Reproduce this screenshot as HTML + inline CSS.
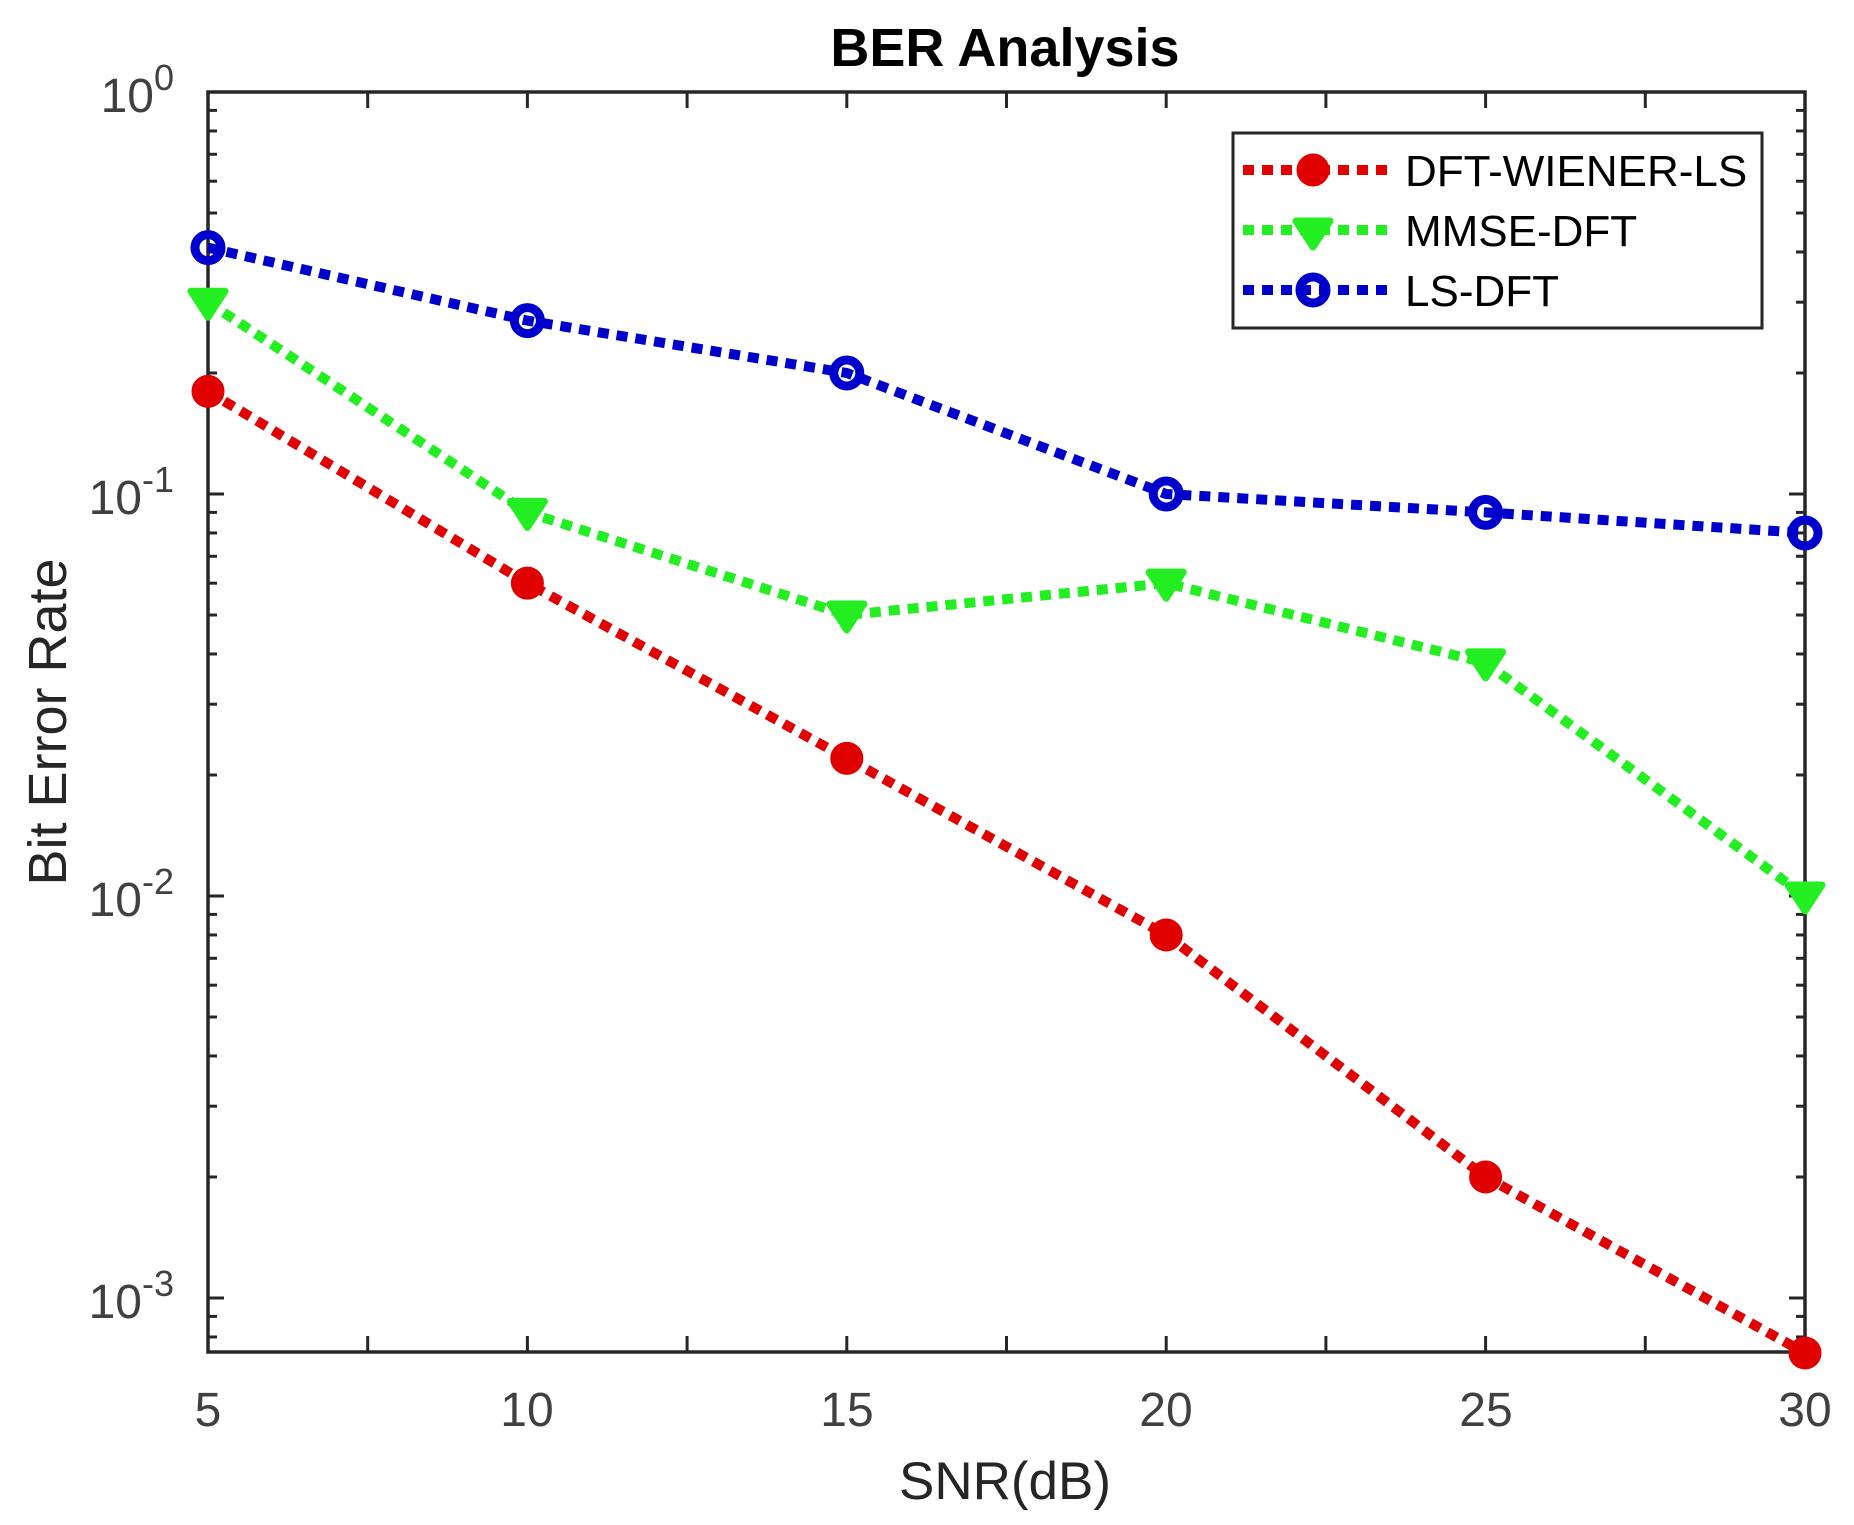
<!DOCTYPE html>
<html><head><style>body{margin:0;background:#fff}svg{display:block}</style></head><body>
<svg width="1854" height="1525" viewBox="0 0 1854 1525" xmlns="http://www.w3.org/2000/svg" font-family="Liberation Sans, Arial, sans-serif">
<rect width="1854" height="1525" fill="#fff"/>
<text x="1005" y="66" font-size="54" font-weight="bold" text-anchor="middle" fill="#000">BER Analysis</text>
<g id="ticks" stroke="#262626" stroke-width="3"></g>
<rect x="208" y="92" width="1597" height="1260" fill="none" stroke="#262626" stroke-width="3.5"/>
<g font-size="48" fill="#404040" text-anchor="middle">
<text x="208" y="1426">5</text><text x="527" y="1426">10</text><text x="847" y="1426">15</text><text x="1166" y="1426">20</text><text x="1486" y="1426">25</text><text x="1805" y="1426">30</text>
</g>
<g font-size="48" fill="#404040" text-anchor="end">
<text x="174" y="112">10<tspan dy="-22" font-size="36">0</tspan></text>
<text x="174" y="514">10<tspan dy="-22" font-size="36">-1</tspan></text>
<text x="174" y="916">10<tspan dy="-22" font-size="36">-2</tspan></text>
<text x="174" y="1318">10<tspan dy="-22" font-size="36">-3</tspan></text>
</g>
<text x="1005" y="1499" font-size="53" fill="#262626" text-anchor="middle">SNR(dB)</text>
<text transform="translate(66,722) rotate(-90)" font-size="54" fill="#262626" text-anchor="middle">Bit Error Rate</text>
<g id="series" fill="none" stroke-width="10" stroke-dasharray="11 8"></g>
<rect x="1233" y="133" width="529" height="195" fill="#fff" stroke="#262626" stroke-width="3"/>
<g font-size="44" fill="#000">
<text x="1405" y="186">DFT-WIENER-LS</text>
<text x="1405" y="246">MMSE-DFT</text>
<text x="1405" y="306">LS-DFT</text>
</g>
<g fill="none" stroke-width="10" stroke-dasharray="11 8">
<line x1="1243" y1="170" x2="1393" y2="170" stroke="#e00000"/>
<line x1="1243" y1="230" x2="1393" y2="230" stroke="#22ee22"/>
<line x1="1243" y1="290" x2="1393" y2="290" stroke="#0000cc"/>
</g>
<circle cx="1313" cy="170" r="13" fill="#e00000" stroke="#e00000" stroke-width="7"/>
<path d="M1296,221 L1330,221 L1313,247 Z" fill="#22ee22" stroke="#22ee22" stroke-width="7" stroke-linejoin="round"/>
<circle cx="1313" cy="290" r="13" fill="none" stroke="#0000cc" stroke-width="9"/>
<script>
const X=s=>208+(s-5)*63.88, Y=v=>92-Math.log10(v)*402;
const ns="http://www.w3.org/2000/svg";
const t=document.getElementById('ticks');
function L(g,a,b,c,d,col){const l=document.createElementNS(ns,'line');l.setAttribute('x1',a);l.setAttribute('y1',b);l.setAttribute('x2',c);l.setAttribute('y2',d);if(col)l.setAttribute('stroke',col);g.appendChild(l);}
for(let s=7.5;s<30;s+=2.5){L(t,X(s),1352,X(s),1336);L(t,X(s),92,X(s),108);}
for(let e=0;e>=-4;e--){for(let k=1;k<10;k++){const v=k*Math.pow(10,e-0);const y=Y(v);if(y<91||y>1353)continue;const len=k==1?16:9;L(t,208,y,208+len,y);L(t,1805,y,1805-len,y);}}
const S=[["#e00000",[0.18,0.06,0.022,0.008,0.002,0.00073],"c",1],["#22ee22",[0.3,0.09,0.05,0.06,0.038,0.01],"t",1],["#0000cc",[0.41,0.27,0.2,0.1,0.09,0.08],"c",0]];
const g=document.getElementById('series');
S.forEach(([c,d,m,f])=>{const p=document.createElementNS(ns,'polyline');p.setAttribute('points',d.map((v,i)=>X(5+5*i)+','+Y(v)).join(' '));p.setAttribute('stroke',c);g.appendChild(p);
d.forEach((v,i)=>{const x=X(5+5*i),y=Y(v);let e;if(m=="c"){e=document.createElementNS(ns,'circle');e.setAttribute('cx',x);e.setAttribute('cy',y);e.setAttribute('r',13);}else{e=document.createElementNS(ns,'path');e.setAttribute('d',`M${x-17},${y-11} L${x+17},${y-11} L${x},${y+15} Z`);e.setAttribute('stroke-linejoin','round');}
e.setAttribute('fill',f?c:'none');e.setAttribute('stroke',c);e.setAttribute('stroke-width',f?7:9);g.parentNode.insertBefore(e,g.nextSibling);});});
</script>
</svg>
</body></html>
